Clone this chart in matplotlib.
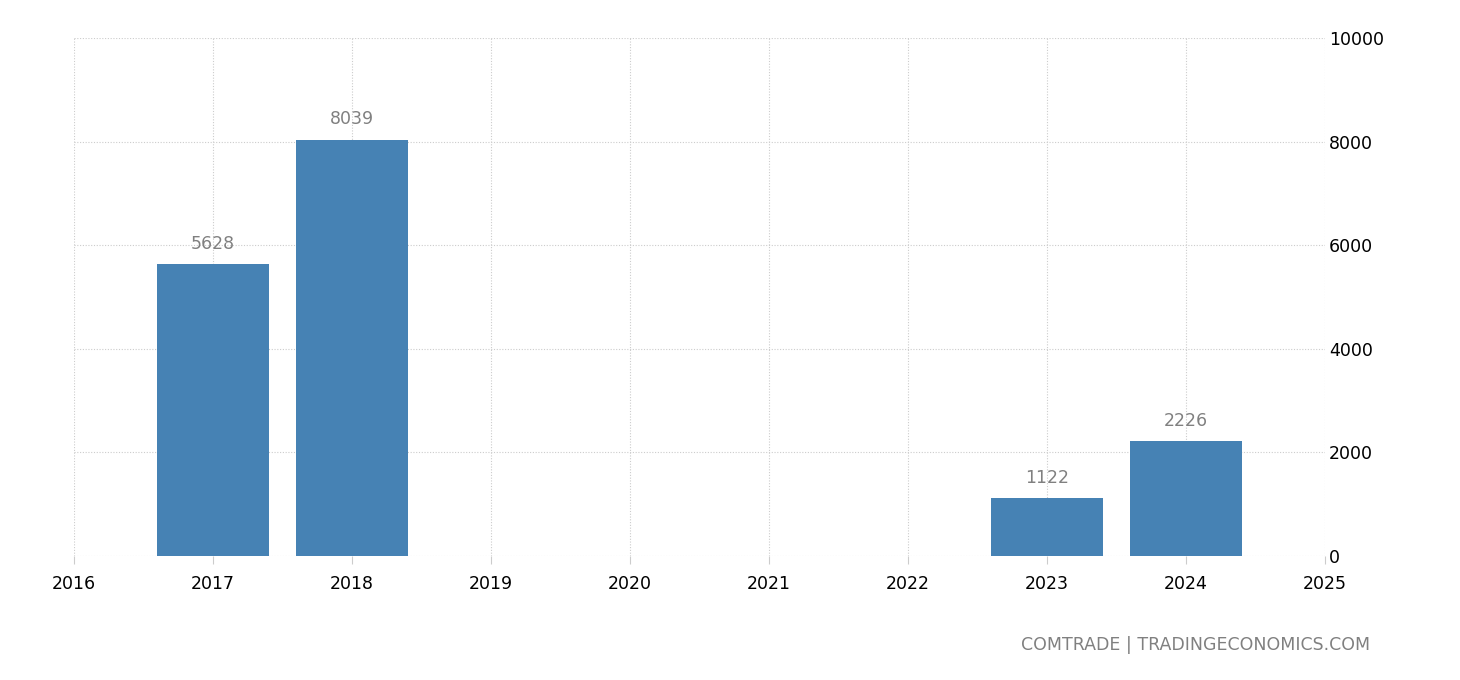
import matplotlib.pyplot as plt

# Data
years = [2017, 2018, 2023, 2024]
values = [5628, 8039, 1122, 2226]
xticks = list(range(2016, 2026))
yticks = [0, 2000, 4000, 6000, 8000, 10000]

fig = plt.figure(figsize=(14.6, 6.8), dpi=100)
ax = fig.add_axes([0.0507, 0.1824, 0.8568, 0.7617])

bars = ax.bar(years, values, width=0.8, color="#4682b4", zorder=2)

ax.set_xlim(2016, 2025)
ax.set_ylim(0, 10000)
ax.set_xticks(xticks)
ax.set_xticklabels([str(y) for y in xticks])
ax.set_yticks(yticks)
ax.set_yticklabels([str(v) for v in yticks])

ax.yaxis.tick_right()
ax.grid(True, color="#cccccc", linestyle=(0, (1, 1.5)), linewidth=0.8, zorder=0)
for s in ax.spines.values():
    s.set_visible(False)

ax.tick_params(axis="x", length=6, color="#cccccc", labelsize=12.5, pad=8, labelcolor="black")
ax.tick_params(axis="y", length=0, labelsize=12.5, pad=3, labelcolor="black")

# Values on bars
for bar in bars:
    h = bar.get_height()
    ax.annotate(f"{int(h)}", (bar.get_x() + bar.get_width() / 2, h),
                xytext=(0, 8), textcoords="offset points",
                ha="center", va="bottom", fontsize=12.5, color="#808080")

fig.text(1370 / 1460, 1 - 645 / 680, "COMTRADE | TRADINGECONOMICS.COM",
         ha="right", va="center", fontsize=12.5, color="#808080")

fig.savefig("out.png", dpi=100)
